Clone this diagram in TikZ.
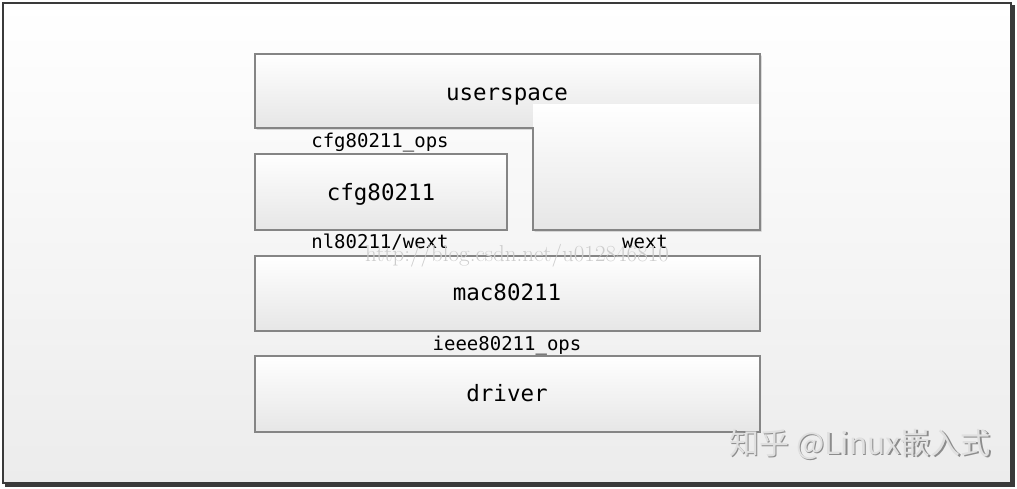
\documentclass[tikz,border=0pt]{standalone}
\usepackage{fontspec}
\setmonofont{DejaVu Sans Mono}
\newfontfamily\cjk{Noto Sans CJK SC}
\usetikzlibrary{shadows}
\definecolor{boxline}{HTML}{858585}
\definecolor{boxbot}{HTML}{E6E6E6}
\definecolor{bgbot}{HTML}{ECECEC}
\definecolor{frameline}{HTML}{3A3A3A}
\tikzset{
  layer/.style={draw=boxline, line width=1.2pt, top color=white, bottom color=boxbot,
    inner sep=0pt},
  layertext/.style={inner sep=0pt, anchor=base, font=\ttfamily\fontsize{22.5}{22.5}\selectfont},
  iface/.style={inner sep=0pt, anchor=base, font=\ttfamily\fontsize{19}{19}\selectfont},
  wmark/.style={inner sep=0pt, anchor=base, text=black!20, font=\rmfamily\fontsize{23}{23}\selectfont},
  shade/.style={drop shadow={shadow xshift=1.2pt, shadow yshift=-1.2pt, opacity=0.45}},
}
\begin{document}
\begin{tikzpicture}[x=1pt,y=-1pt]
\useasboundingbox (0,0) rectangle (1017,488);
% outer frame
\fill[frameline] (5,5) rectangle (1015,487);
\shade[top color=white, bottom color=bgbot] (3,3) rectangle (1011,483);
\draw[frameline, line width=1.6pt] (3,3) rectangle (1011,483);
% userspace L-shape
\fill[black!45, opacity=0.45] (256.5,55.5) -- (761.5,55.5) -- (761.5,231.5) -- (534.5,231.5) -- (534.5,129.5) -- (256.5,129.5) -- cycle;
\shade[top color=white, bottom color=boxbot] (255,54) rectangle (760,128);
\shade[top color=white, middle color=white, bottom color=boxbot] (533,104) rectangle (760,230);
\draw[boxline, line width=1.2pt] (255,54) -- (760,54) -- (760,230) -- (533,230) -- (533,128) -- (255,128) -- cycle;
% layers
\node[layer, shade, minimum width=252pt, minimum height=76pt] (cfg) at (381,192) {};
\node[layer, shade, minimum width=505pt, minimum height=75pt] (mac) at (507.5,293.5) {};
\node[layer, shade, minimum width=505pt, minimum height=76pt] (drv) at (507.5,394) {};
% layer texts
\node[layertext] (us) at (507,100) {userspace};
\node[layertext] (cfgt) at (381,200) {cfg80211};
\node[layertext] (mact) at (507,300) {mac80211};
\node[layertext] (drvt) at (507,401) {driver};
% interface labels
\node[iface] (l1) at (380,147) {cfg80211\_ops};
\node[iface] (l2) at (380,248) {nl80211/wext};
\node[iface] (l3) at (645,248) {wext};
\node[iface] (l4) at (507,350) {ieee80211\_ops};
% watermarks
\node[wmark] (w1) at (517,261) {http://blog.csdn.net/u012846810};
\node[inner sep=0pt, text=black!45, font=\cjk\fontsize{30}{30}\selectfont] (w2s) at (861.5,445.5) {知乎 @Linux嵌入式};
\node[inner sep=0pt, text=black!12, font=\cjk\fontsize{30}{30}\selectfont] (w2) at (860,444) {知乎 @Linux嵌入式};
\end{tikzpicture}
\end{document}
